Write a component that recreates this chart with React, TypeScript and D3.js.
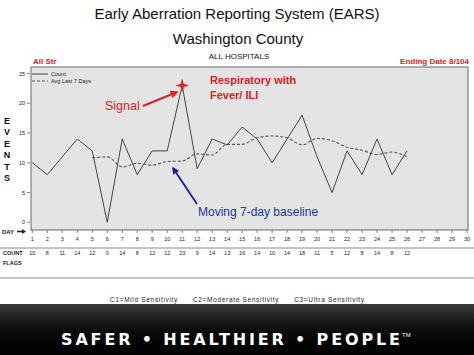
import React from "react";
import * as d3 from "d3";

const days = d3.range(1, 31);
const countDays = d3.range(1, 27);
const counts = [10, 8, 11, 14, 12, 0, 14, 8, 12, 12, 23, 9, 14, 13, 16, 14, 10, 14, 18, 11, 5, 12, 8, 14, 8, 12];
const avgDays = d3.range(5, 27);
const avgLast7 = [10.8, 11.0, 9.3, 9.9, 9.6, 10.2, 10.3, 11.5, 11.3, 13.1, 13.1, 14.2, 14.5, 14.2, 13.0, 14.1, 13.7, 12.6, 12.1, 11.4, 11.8, 11.0];
const yTicks = [0, 5, 10, 15, 20, 25];
const signalDay = 11;
const eventsLetters = ["E", "V", "E", "N", "T", "S"];

const FONT = "'Liberation Sans', Arial, Helvetica, sans-serif";

export default function App() {
  const W = 474, H = 355;
  const plot = { left: 31, right: 468, top: 67, bottom: 230 };
  const x = d3.scaleLinear().domain([1, 30]).range([32.3, 467]);
  const y = d3.scaleLinear().domain([0, 25]).range([222.3, 73.5]);

  const countLine = d3.line<number>().x((_, i) => x(countDays[i])).y((d) => y(d))(counts) || "";
  const avgLine = d3
    .line<number>()
    .x((_, i) => x(avgDays[i]))
    .y((d) => y(d))
    .curve(d3.curveMonotoneX)(avgLast7) || "";

  const sx = x(signalDay), sy = y(counts[signalDay - 1]);
  const star = `M${sx},${sy - 6} L${sx + 1.3},${sy - 1.3} L${sx + 6},${sy} L${sx + 1.3},${sy + 1.3} L${sx},${sy + 6} L${sx - 1.3},${sy + 1.3} L${sx - 6},${sy} L${sx - 1.3},${sy - 1.3} Z`;

  return (
    <svg width={W} height={H} style={{ position: "absolute", left: 0, top: 0, display: "block" }} fontFamily={FONT}>
      <defs>
        <linearGradient id="band" x1="0" y1="0" x2="0" y2="1">
          <stop offset="0" stopColor="#3a3a3a" />
          <stop offset="0.5" stopColor="#0c0c0c" />
          <stop offset="1" stopColor="#000" />
        </linearGradient>
        <marker id="arrRed" viewBox="0 0 10 10" refX="8" refY="5" markerWidth="4" markerHeight="4" orient="auto">
          <path d="M0,0 L10,5 L0,10 Z" fill="#e02020" />
        </marker>
        <marker id="arrBlue" viewBox="0 0 10 10" refX="8" refY="5" markerWidth="4" markerHeight="4" orient="auto">
          <path d="M0,0 L10,5 L0,10 Z" fill="#1a1aa8" />
        </marker>
      </defs>
      <rect width={W} height={H} fill="#fff" />

      <text x={237} y={19} textAnchor="middle" fontSize={15} fill="#111">Early Aberration Reporting System (EARS)</text>
      <text x={238} y={44} textAnchor="middle" fontSize={15} fill="#111">Washington County</text>
      <text x={239} y={59} textAnchor="middle" fontSize={8} fill="#111">ALL HOSPITALS</text>
      <text x={33} y={64} fontSize={8} fontWeight="bold" fill="#e02020">All Str</text>
      <text x={469} y={64} textAnchor="end" fontSize={8} fontWeight="bold" fill="#e02020">Ending Date 8/104</text>

      <rect x={plot.left} y={plot.top} width={plot.right - plot.left} height={plot.bottom - plot.top} fill="#e4e4e4" stroke="#666" strokeWidth={1} />

      {yTicks.map((t) => (
        <g key={t}>
          <line x1={27} x2={30} y1={y(t)} y2={y(t)} stroke="#555" strokeWidth={0.7} />
          <text x={25} y={y(t) + 2} textAnchor="end" fontSize={5.5} fill="#222">{t}</text>
        </g>
      ))}

      {days.map((d) => (
        <g key={d}>
          <line x1={x(d)} x2={x(d)} y1={plot.bottom} y2={plot.bottom + 3} stroke="#555" strokeWidth={0.7} />
          <text x={x(d)} y={240.5} textAnchor="middle" fontSize={5.5} fill="#222">{d}</text>
        </g>
      ))}

      <path d={avgLine} fill="none" stroke="#555" strokeWidth={1.1} strokeDasharray="3,2" />
      <path d={countLine} fill="none" stroke="#444" strokeWidth={1} />
      <path d={star} fill="#e02020" stroke="#e02020" strokeWidth={0.6} />

      <line x1={32} x2={48} y1={74} y2={74} stroke="#444" strokeWidth={1} />
      <text x={51} y={76} fontSize={5.5} fill="#222">Count</text>
      <line x1={32} x2={48} y1={81} y2={81} stroke="#555" strokeWidth={1} strokeDasharray="3,2" />
      <text x={51} y={83} fontSize={5.5} fill="#222">Avg Last 7 Days</text>

      {eventsLetters.map((l, i) => (
        <text key={i} x={7} y={124 + i * 11.4} textAnchor="middle" fontSize={9} fontWeight="bold" fill="#111">{l}</text>
      ))}

      <text x={2} y={234} fontSize={6} fontWeight="bold" fill="#222">DAY</text>
      <path d="M17,231.5 L23,231.5" stroke="#222" strokeWidth={1.6} />
      <path d="M22,229 L26,231.5 L22,234 Z" fill="#222" />

      <line x1={0} x2={474} y1={248} y2={248} stroke="#888" strokeWidth={1} />
      <text x={3} y={255} fontSize={5.5} fontWeight="bold" fill="#222">COUNT</text>
      <text x={3} y={264.5} fontSize={5.5} fontWeight="bold" fill="#222">FLAGS</text>
      {counts.map((c, i) => (
        <text key={i} x={x(countDays[i])} y={255} textAnchor="middle" fontSize={5.5} fill="#222">{c}</text>
      ))}
      <line x1={0} x2={474} y1={278} y2={278} stroke="#888" strokeWidth={1} />

      <text x={110} y={302} fontSize={6.5} fill="#222" textLength={254} lengthAdjust="spacing" xmlSpace="preserve">C1=Mild Sensitivity      C2=Moderate Sensitivity      C3=Ultra Sensitivity</text>

      <text x={105} y={110} fontSize={12.5} fill="#e02020">Signal</text>
      <line x1={143} y1={106} x2={177} y2={92} stroke="#e02020" strokeWidth={2} markerEnd="url(#arrRed)" />
      <text x={210} y={84} fontSize={11} fontWeight="bold" fill="#e02020">Respiratory with</text>
      <text x={210} y={99} fontSize={11} fontWeight="bold" fill="#e02020">Fever/ ILI</text>

      <line x1={197} y1={204} x2={173} y2={168} stroke="#1a1aa8" strokeWidth={1.8} markerEnd="url(#arrBlue)" />
      <text x={198} y={216} fontSize={12} fill="#2233aa">Moving 7-day baseline</text>

      <rect x={0} y={304} width={W} height={H - 304} fill="url(#band)" />
      <text x={61} y={345} fontSize={16} fontWeight="bold" fill="#fff" fontFamily="'DejaVu Sans', Verdana, sans-serif" textLength={339} lengthAdjust="spacing">SAFER • HEALTHIER • PEOPLE</text>
      <text x={402} y={337} fontSize={6} fill="#fff">TM</text>
    </svg>
  );
}
